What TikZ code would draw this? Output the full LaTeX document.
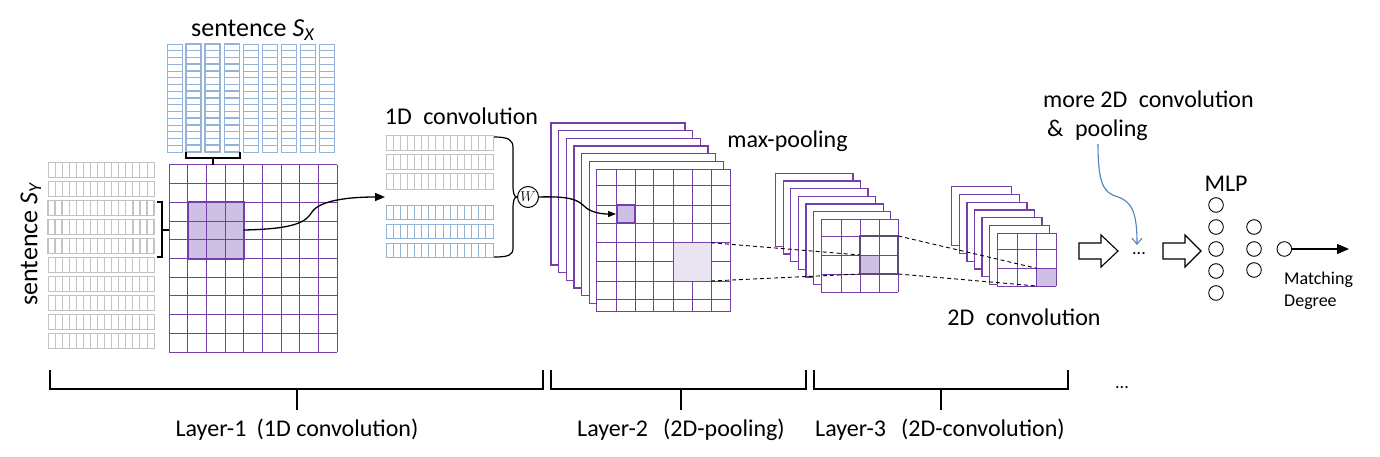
\documentclass[tikz,border=0pt]{standalone}
\usepackage{fontspec}
\setmainfont{Carlito}
\usetikzlibrary{arrows.meta}
\definecolor{pur}{RGB}{118,62,170}
\definecolor{purfill}{RGB}{204,192,228}
\definecolor{purlight}{RGB}{234,228,242}
\definecolor{sxblue}{RGB}{149,179,215}
\definecolor{sygray}{RGB}{195,195,195}
\definecolor{arrblue}{RGB}{79,129,189}
\definecolor{pooldark}{RGB}{96,74,123}
\tikzset{
  lbl/.style={font=\fontsize{24}{28}\selectfont, inner sep=0pt, anchor=base},
  biglbl/.style={font=\fontsize{26}{30}\selectfont, inner sep=0pt, anchor=base},
  smalllbl/.style={font=\fontsize{18}{22}\selectfont, inner sep=0pt, anchor=base west},
  gridline/.style={pur, line width=1pt},
  backmap/.style={pur, line width=1.3pt, fill=white},
  neuron/.style={circle, draw, line width=0.9pt, minimum size=14.6pt, inner sep=0pt},
  conn/.style={line width=1.3pt, -{Triangle[length=10pt,width=8pt]}},
  dashconn/.style={line width=0.9pt, dash pattern=on 4pt off 3pt},
  bracketline/.style={line width=1.3pt},
  hollow/.style={draw, line width=1.1pt, fill=white},
}
\begin{document}
\begin{tikzpicture}[x=1pt,y=-1pt]
\useasboundingbox (0,0) rectangle (1380,457);

% ---------- sentence S_X columns ----------
\foreach \i in {0,...,8}{
  \pgfmathsetmacro\xl{167+19.1*\i}
  \pgfmathsetmacro\lw{(\i>0 && \i<4) ? 1.5 : 0.8}
  \draw[sxblue, line width=\lw pt] (\xl,44) rectangle (\xl+15,152);
  \foreach \j in {1,...,15}{
    \draw[sxblue, line width=\lw pt] (\xl,44+6.75*\j) -- (\xl+15,44+6.75*\j);
  }
}
\node[biglbl] (sx) at (253,37) {sentence \textit{S}\textsubscript{\textit{X}}};

% ---------- sentence S_Y rows ----------
\foreach \j in {0,...,9}{
  \pgfmathsetmacro\yt{162.7+19*\j}
  \pgfmathsetmacro\lw{(\j>1 && \j<5) ? 1.4 : 0.9}
  \draw[sygray, line width=\lw pt] (48,\yt) rectangle (154,\yt+14.7);
  \foreach \k in {1,...,14}{
    \draw[sygray, line width=\lw pt] (48+7.07*\k,\yt) -- (48+7.07*\k,\yt+14.7);
  }
}
\node[biglbl, rotate=90] (sy) at (37.3,244) {sentence \textit{S}\textsubscript{\textit{Y}}};

% ---------- layer-1 matrix ----------
\fill[purfill] (187.7,202.4) rectangle (243.7,258.5);
\foreach \k in {0,...,9} \draw[gridline] (169+18.67*\k,165) -- (169+18.67*\k,352);
\foreach \k in {0,...,10} \draw[gridline] (169,165+18.7*\k) -- (337,165+18.7*\k);
\draw[pur, line width=2pt] (187.7,202.4) rectangle (243.7,258.5);

% brackets
\draw[bracketline] (186,152) -- (186,158) -- (240,158) -- (240,152);
\draw[bracketline] (213,158) -- (213,165);
\draw[bracketline] (157,202) -- (162,202) -- (162,257) -- (157,257);
\draw[bracketline] (162,230) -- (169,230);

% ---------- 1D convolution rows ----------
\foreach \yt in {136,155,174}{
  \draw[sygray, line width=1pt] (386,\yt) rectangle (493,\yt+15);
  \foreach \k in {1,...,14} \draw[sygray, line width=1pt] (386+7.13*\k,\yt) -- (386+7.13*\k,\yt+15);
}
\foreach \yt in {205,224,243}{
  \draw[sxblue, line width=1pt] (386,\yt) rectangle (493,\yt+14.5);
  \foreach \k in {1,...,14} \draw[sxblue, line width=1pt] (386+7.13*\k,\yt) -- (386+7.13*\k,\yt+14.5);
}
\node[lbl] (conv1d) at (461.5,125) {1D\hspace{0.25em} convolution};

\coordinate (h1) at (243.7,230);
\coordinate (c1) at (385,197);
\draw[conn] (h1) .. controls (295,229) and (306,222) .. (312,212) .. controls (320,200) and (350,197) .. (c1);

\node[circle, draw, line width=1pt, minimum size=21pt, inner sep=0pt, font=\fontsize{14}{14}\selectfont] (W) at (528,197) {$W$};
\draw[line width=1.2pt] (494,137) .. controls (509,137) and (513,140) .. (513,148) -- (513,185)
   .. controls (513,193) and (514,197) .. (W.west)
   .. controls (514,197) and (513,201) .. (513,209) -- (513,248)
   .. controls (513,255) and (509,257) .. (494,257);

% ---------- layer-2 maps ----------
\foreach \k in {0,...,5} \draw[backmap] (551+7.67*\k,123+7.67*\k) rectangle ++(134,142);
\fill[white] (596.7,169.3) rectangle (730.7,311.7);
\fill[purfill] (616.7,205) rectangle (635,223.3);
\foreach \x in {596.7,616.7,635,653.3,673.3,692.7,711,730.7} \draw[gridline] (\x,169.3) -- (\x,311.7);
\foreach \y in {169.3,185.7,205,223.3,242.7,261.7,281,299,311.7} \draw[gridline] (596.7,\y) -- (730.7,\y);
\fill[purlight] (673.3,242.7) rectangle (711,281);
\draw[gridline] (673.3,242.7) rectangle (711,281);
\draw[pur, line width=2pt] (616.7,205) rectangle (635,223.3);
\node[lbl] (maxp) at (787.5,148) {max-pooling};

\coordinate (c2) at (616,214);
\draw[line width=1.3pt, -{Triangle[length=8pt,width=6pt]}] (W.east) .. controls (570,196) and (578,200) .. (584,206) .. controls (590,212) and (600,214) .. (c2);

% ---------- pooled maps ----------
\foreach \k in {0,...,5} \draw[backmap] (775.7+7.55*\k,173.3+7.67*\k) rectangle ++(77.3,73);
\fill[white] (821,219.3) rectangle (898.3,292.3);
\fill[purfill] (860,255) rectangle (879,274);
\foreach \x in {821,841,860,879,898.3} \draw[gridline] (\x,219.3) -- (\x,292.3);
\foreach \y in {219.3,236,255,274,292.3} \draw[gridline] (821,\y) -- (898.3,\y);
\draw[pooldark, line width=2.2pt] (860,236) rectangle (898.3,274);

% ---------- layer-3 maps ----------
\foreach \k in {0,...,5} \draw[backmap] (951.7+7.6*\k,186.7+7.77*\k) rectangle ++(60,59);
\fill[white] (997.3,233.3) rectangle (1056,286);
\fill[purfill] (1036.7,268.3) rectangle (1056,286);
\foreach \x in {997.3,1017.3,1036.7,1056} \draw[gridline] (\x,233.3) -- (\x,286);
\foreach \y in {233.3,249,268.3,286} \draw[gridline] (997.3,\y) -- (1056,\y);
\node[lbl] (conv2d) at (1024,325) {2D\hspace{0.25em} convolution};

% dashed connectors
\coordinate (L2a) at (711,242.7);
\coordinate (L2b) at (711,281);
\coordinate (P1a) at (860,255);
\coordinate (P1b) at (860,274);
\coordinate (P2a) at (898.3,236);
\coordinate (P2b) at (898.3,274);
\coordinate (C3a) at (1036.7,268.3);
\coordinate (C3b) at (1036.7,286);
\draw[dashconn] (L2a) -- (P1a);
\draw[dashconn] (L2b) -- (P1b);
\draw[dashconn] (P2a) -- (C3a);
\draw[dashconn] (P2b) -- (C3b);

% ---------- hollow arrows and dots ----------
\draw[hollow] (1079,243) -- (1101,243) -- (1101,235) -- (1118,251) -- (1101,267) -- (1101,259) -- (1079,259) -- cycle;
\draw[hollow] (1163,243) -- (1185,243) -- (1185,235) -- (1201,251) -- (1185,267) -- (1185,259) -- (1163,259) -- cycle;
\node[inner sep=0pt, anchor=base, font=\fontsize{18}{20}\selectfont] (dots) at (1139,254) {...};

\node[lbl, anchor=base west] (more1) at (1043,108) {more 2D\hspace{0.25em} convolution};
\node[lbl, anchor=base west] (more2) at (1047,137) {\&\hspace{0.25em} pooling};
\coordinate (bl1) at (1098,144);
\coordinate (bl2) at (1137,245);
\draw[arrblue, line width=1.1pt, -{Straight Barb[length=6pt,width=10pt]}] (bl1) .. controls (1098,185) and (1104,193) .. (1118,197) .. controls (1133,202) and (1137,215) .. (bl2);

% ---------- MLP ----------
\node[lbl] (mlp) at (1226,192) {MLP};
\node[neuron] (m1) at (1216,205) {};
\node[neuron] (m2) at (1216,227) {};
\node[neuron] (m3) at (1216,249) {};
\node[neuron] (m4) at (1216,271) {};
\node[neuron] (m5) at (1216,293) {};
\node[neuron] (n1) at (1254,227) {};
\node[neuron] (n2) at (1254,249) {};
\node[neuron] (n3) at (1254,270) {};
\node[neuron] (o) at (1284.3,249) {};
\coordinate (out) at (1349,249);
\draw[line width=1.2pt, -{Triangle[length=12pt,width=10pt]}] (o.east) -- (out);
\node[smalllbl] (md1) at (1284,284) {Matching};
\node[smalllbl] (md2) at (1284,306) {Degree};

% ---------- layer brackets ----------
\draw[bracketline] (50,370) -- (50,389) -- (543,389) -- (543,370);
\draw[bracketline] (297,389) -- (297,410);
\draw[bracketline] (551,370) -- (551,389) -- (806,389) -- (806,370);
\draw[bracketline] (681,389) -- (681,410);
\draw[bracketline] (814,370) -- (814,389) -- (1068,389) -- (1068,370);
\draw[bracketline] (941,389) -- (941,410);
\node[lbl] (l1) at (297,436) {Layer-1\hspace{0.2em} (1D convolution)};
\node[lbl] (l2) at (681,436) {Layer-2\hspace{0.4em} (2D-pooling)};
\node[lbl] (l3) at (940,436) {Layer-3\hspace{0.4em} (2D-convolution)};
\node[inner sep=0pt, anchor=base, font=\fontsize{18}{20}\selectfont] (dots2) at (1122,388) {...};
\end{tikzpicture}
\end{document}
